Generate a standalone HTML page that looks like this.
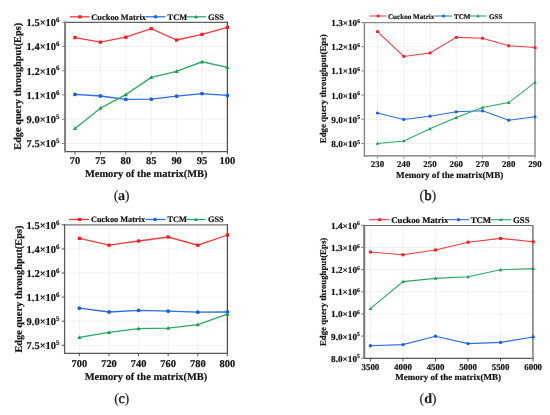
<!DOCTYPE html>
<html><head><meta charset="utf-8"><title>Edge query throughput vs memory</title>
<style>
html,body{margin:0;padding:0;background:#fff;}
svg{display:block;}
text{font-family:"Liberation Serif","Times New Roman",serif;font-weight:bold;fill:#111;stroke:#111;stroke-width:0.18px;text-rendering:geometricPrecision;}
text.cap{font-weight:normal;fill:#1a1a1a;stroke:#1a1a1a;stroke-width:0.1px;}
.gr{stroke:#e8e8e8;stroke-width:0.6;}
.fr{fill:none;stroke:#5a5a5a;stroke-width:1.4;}
.tk{stroke:#5a5a5a;stroke-width:1;}
</style></head>
<body>
<svg width="550" height="415" viewBox="0 0 550 415">
<rect width="550" height="415" fill="#fff"/>
<g><line x1="100.4" y1="22.3" x2="100.4" y2="151.5" class="gr"/><line x1="125.8" y1="22.3" x2="125.8" y2="151.5" class="gr"/><line x1="151.2" y1="22.3" x2="151.2" y2="151.5" class="gr"/><line x1="176.6" y1="22.3" x2="176.6" y2="151.5" class="gr"/><line x1="202" y1="22.3" x2="202" y2="151.5" class="gr"/><line x1="65.05" y1="46.45" x2="227.4" y2="46.45" class="gr"/><line x1="65.05" y1="70.7" x2="227.4" y2="70.7" class="gr"/><line x1="65.05" y1="94.95" x2="227.4" y2="94.95" class="gr"/><line x1="65.05" y1="119.2" x2="227.4" y2="119.2" class="gr"/><line x1="65.05" y1="143.45" x2="227.4" y2="143.45" class="gr"/><line x1="64" y1="22.3" x2="228" y2="22.3" stroke="#626262" stroke-width="1.3"/><line x1="64" y1="151.5" x2="228" y2="151.5" stroke="#555" stroke-width="1.25"/><line x1="65.05" y1="21.65" x2="65.05" y2="152.12" stroke="#838383" stroke-width="2.1"/><line x1="227.4" y1="21.65" x2="227.4" y2="152.12" stroke="#484848" stroke-width="1.2"/><polyline points="75,37.6 100.4,42.2 125.8,37.2 151.2,28.6 176.6,40 202,34.4 227.4,27.4" fill="none" stroke="#f23c40" stroke-width="1.3"/><rect x="73.35" y="35.95" width="3.3" height="3.3" fill="#f21c24"/><rect x="98.75" y="40.55" width="3.3" height="3.3" fill="#f21c24"/><rect x="124.15" y="35.55" width="3.3" height="3.3" fill="#f21c24"/><rect x="149.55" y="26.95" width="3.3" height="3.3" fill="#f21c24"/><rect x="174.95" y="38.35" width="3.3" height="3.3" fill="#f21c24"/><rect x="200.35" y="32.75" width="3.3" height="3.3" fill="#f21c24"/><rect x="225.75" y="25.75" width="3.3" height="3.3" fill="#f21c24"/><polyline points="75,94.4 100.4,96 125.8,99.4 151.2,99.2 176.6,96.2 202,93.6 227.4,95.4" fill="none" stroke="#2a6ee0" stroke-width="1.3"/><circle cx="75" cy="94.4" r="1.9" fill="#1a5fdc"/><circle cx="100.4" cy="96" r="1.9" fill="#1a5fdc"/><circle cx="125.8" cy="99.4" r="1.9" fill="#1a5fdc"/><circle cx="151.2" cy="99.2" r="1.9" fill="#1a5fdc"/><circle cx="176.6" cy="96.2" r="1.9" fill="#1a5fdc"/><circle cx="202" cy="93.6" r="1.9" fill="#1a5fdc"/><circle cx="227.4" cy="95.4" r="1.9" fill="#1a5fdc"/><polyline points="75,128.4 100.4,108.2 125.8,94.6 151.2,77.4 176.6,71.4 202,61.8 227.4,67.4" fill="none" stroke="#2aa865" stroke-width="1.3"/><path d="M72.95 130L77.05 130L75 126.3Z" fill="#179c50"/><path d="M98.35 109.8L102.45 109.8L100.4 106.1Z" fill="#179c50"/><path d="M123.75 96.2L127.85 96.2L125.8 92.5Z" fill="#179c50"/><path d="M149.15 79L153.25 79L151.2 75.3Z" fill="#179c50"/><path d="M174.55 73L178.65 73L176.6 69.3Z" fill="#179c50"/><path d="M199.95 63.4L204.05 63.4L202 59.7Z" fill="#179c50"/><path d="M225.35 69L229.45 69L227.4 65.3Z" fill="#179c50"/><line x1="75" y1="151.5" x2="75" y2="154.5" stroke="#555" stroke-width="1"/><line x1="100.4" y1="151.5" x2="100.4" y2="154.5" stroke="#555" stroke-width="1"/><line x1="125.8" y1="151.5" x2="125.8" y2="154.5" stroke="#555" stroke-width="1"/><line x1="151.2" y1="151.5" x2="151.2" y2="154.5" stroke="#555" stroke-width="1"/><line x1="176.6" y1="151.5" x2="176.6" y2="154.5" stroke="#555" stroke-width="1"/><line x1="202" y1="151.5" x2="202" y2="154.5" stroke="#555" stroke-width="1"/><line x1="227.4" y1="151.5" x2="227.4" y2="154.5" stroke="#555" stroke-width="1"/><line x1="65.05" y1="22.2" x2="62.05" y2="22.2" stroke="#838383" stroke-width="1"/><line x1="65.05" y1="46.45" x2="62.05" y2="46.45" stroke="#838383" stroke-width="1"/><line x1="65.05" y1="70.7" x2="62.05" y2="70.7" stroke="#838383" stroke-width="1"/><line x1="65.05" y1="94.95" x2="62.05" y2="94.95" stroke="#838383" stroke-width="1"/><line x1="65.05" y1="119.2" x2="62.05" y2="119.2" stroke="#838383" stroke-width="1"/><line x1="65.05" y1="143.45" x2="62.05" y2="143.45" stroke="#838383" stroke-width="1"/><text x="75" y="164.1" font-size="10.45" text-anchor="middle">70</text><text x="100.4" y="164.1" font-size="10.45" text-anchor="middle">75</text><text x="125.8" y="164.1" font-size="10.45" text-anchor="middle">80</text><text x="151.2" y="164.1" font-size="10.45" text-anchor="middle">85</text><text x="176.6" y="164.1" font-size="10.45" text-anchor="middle">90</text><text x="202" y="164.1" font-size="10.45" text-anchor="middle">95</text><text x="227.4" y="164.1" font-size="10.45" text-anchor="middle">100</text><text x="59.5" y="26.17" font-size="10.45" text-anchor="end">1.5×10<tspan font-size="6.9" dy="-4.2">6</tspan></text><text x="59.5" y="50.42" font-size="10.45" text-anchor="end">1.4×10<tspan font-size="6.9" dy="-4.2">6</tspan></text><text x="59.5" y="74.67" font-size="10.45" text-anchor="end">1.2×10<tspan font-size="6.9" dy="-4.2">6</tspan></text><text x="59.5" y="98.92" font-size="10.45" text-anchor="end">1.1×10<tspan font-size="6.9" dy="-4.2">6</tspan></text><text x="59.5" y="123.17" font-size="10.45" text-anchor="end">9.0×10<tspan font-size="6.9" dy="-4.2">5</tspan></text><text x="59.5" y="147.42" font-size="10.45" text-anchor="end">7.5×10<tspan font-size="6.9" dy="-4.2">5</tspan></text><text x="146.22" y="176.9" font-size="10.45" text-anchor="middle">Memory of the matrix(MB)</text><text transform="translate(21 86.3) rotate(-90)" font-size="10.3" text-anchor="middle">Edge query throughput(Eps)</text><line x1="70" y1="16.8" x2="89.5" y2="16.8" stroke="#f23c40" stroke-width="1.3"/><rect x="78.43" y="15.23" width="3.13" height="3.13" fill="#f21c24"/><text x="91.3" y="19.6" font-size="8.4">Cuckoo Matrix</text><line x1="146" y1="16.8" x2="165.5" y2="16.8" stroke="#2a6ee0" stroke-width="1.3"/><circle cx="155.5" cy="16.8" r="1.8" fill="#1a5fdc"/><text x="167.6" y="19.6" font-size="8.4">TCM</text><line x1="186.5" y1="16.8" x2="206" y2="16.8" stroke="#2aa865" stroke-width="1.3"/><path d="M194.05 18.32L197.95 18.32L196 14.81Z" fill="#179c50"/><text x="208" y="19.6" font-size="8.4">GSS</text><text x="121.4" y="200" font-size="14.2" text-anchor="middle" class="cap" letter-spacing="-0.5">(<tspan font-weight="bold" stroke-width="0.1">a</tspan>)</text></g>
<g><line x1="377.5" y1="22.6" x2="377.5" y2="155.8" class="gr"/><line x1="403.75" y1="22.6" x2="403.75" y2="155.8" class="gr"/><line x1="430" y1="22.6" x2="430" y2="155.8" class="gr"/><line x1="456.25" y1="22.6" x2="456.25" y2="155.8" class="gr"/><line x1="482.5" y1="22.6" x2="482.5" y2="155.8" class="gr"/><line x1="508.75" y1="22.6" x2="508.75" y2="155.8" class="gr"/><line x1="364.4" y1="46.7" x2="535" y2="46.7" class="gr"/><line x1="364.4" y1="70.9" x2="535" y2="70.9" class="gr"/><line x1="364.4" y1="95.1" x2="535" y2="95.1" class="gr"/><line x1="364.4" y1="119.3" x2="535" y2="119.3" class="gr"/><line x1="364.4" y1="143.5" x2="535" y2="143.5" class="gr"/><line x1="363.7" y1="22.6" x2="535.85" y2="22.6" stroke="#8a8a8a" stroke-width="1.4"/><line x1="363.7" y1="155.8" x2="535.85" y2="155.8" stroke="#999" stroke-width="1.7"/><line x1="364.4" y1="21.9" x2="364.4" y2="156.65" stroke="#888" stroke-width="1.4"/><line x1="535" y1="21.9" x2="535" y2="156.65" stroke="#9a9a9a" stroke-width="1.7"/><polyline points="377.5,31.6 403.75,56.4 430,53 456.25,37.4 482.5,38.2 508.75,45.8 535,47.6" fill="none" stroke="#f23c40" stroke-width="1.05"/><rect x="376.1" y="30.2" width="2.8" height="2.8" fill="#f21c24"/><rect x="402.35" y="55" width="2.8" height="2.8" fill="#f21c24"/><rect x="428.6" y="51.6" width="2.8" height="2.8" fill="#f21c24"/><rect x="454.85" y="36" width="2.8" height="2.8" fill="#f21c24"/><rect x="481.1" y="36.8" width="2.8" height="2.8" fill="#f21c24"/><rect x="507.35" y="44.4" width="2.8" height="2.8" fill="#f21c24"/><rect x="533.6" y="46.2" width="2.8" height="2.8" fill="#f21c24"/><polyline points="377.5,113 403.75,119.4 430,116.2 456.25,111.8 482.5,110.8 508.75,120.2 535,116.8" fill="none" stroke="#2a6ee0" stroke-width="1.05"/><circle cx="377.5" cy="113" r="1.61" fill="#1a5fdc"/><circle cx="403.75" cy="119.4" r="1.61" fill="#1a5fdc"/><circle cx="430" cy="116.2" r="1.61" fill="#1a5fdc"/><circle cx="456.25" cy="111.8" r="1.61" fill="#1a5fdc"/><circle cx="482.5" cy="110.8" r="1.61" fill="#1a5fdc"/><circle cx="508.75" cy="120.2" r="1.61" fill="#1a5fdc"/><circle cx="535" cy="116.8" r="1.61" fill="#1a5fdc"/><polyline points="377.5,143.4 403.75,141 430,128.8 456.25,117.6 482.5,107.4 508.75,102.6 535,82.4" fill="none" stroke="#2aa865" stroke-width="1.05"/><path d="M375.76 144.76L379.24 144.76L377.5 141.62Z" fill="#179c50"/><path d="M402.01 142.36L405.49 142.36L403.75 139.22Z" fill="#179c50"/><path d="M428.26 130.16L431.74 130.16L430 127.02Z" fill="#179c50"/><path d="M454.51 118.96L457.99 118.96L456.25 115.81Z" fill="#179c50"/><path d="M480.76 108.76L484.24 108.76L482.5 105.62Z" fill="#179c50"/><path d="M507.01 103.96L510.49 103.96L508.75 100.81Z" fill="#179c50"/><path d="M533.26 83.76L536.74 83.76L535 80.62Z" fill="#179c50"/><line x1="377.5" y1="155.8" x2="377.5" y2="158.8" stroke="#999" stroke-width="1"/><line x1="403.75" y1="155.8" x2="403.75" y2="158.8" stroke="#999" stroke-width="1"/><line x1="430" y1="155.8" x2="430" y2="158.8" stroke="#999" stroke-width="1"/><line x1="456.25" y1="155.8" x2="456.25" y2="158.8" stroke="#999" stroke-width="1"/><line x1="482.5" y1="155.8" x2="482.5" y2="158.8" stroke="#999" stroke-width="1"/><line x1="508.75" y1="155.8" x2="508.75" y2="158.8" stroke="#999" stroke-width="1"/><line x1="535" y1="155.8" x2="535" y2="158.8" stroke="#999" stroke-width="1"/><line x1="364.4" y1="22.5" x2="361.4" y2="22.5" stroke="#888" stroke-width="1"/><line x1="364.4" y1="46.7" x2="361.4" y2="46.7" stroke="#888" stroke-width="1"/><line x1="364.4" y1="70.9" x2="361.4" y2="70.9" stroke="#888" stroke-width="1"/><line x1="364.4" y1="95.1" x2="361.4" y2="95.1" stroke="#888" stroke-width="1"/><line x1="364.4" y1="119.3" x2="361.4" y2="119.3" stroke="#888" stroke-width="1"/><line x1="364.4" y1="143.5" x2="361.4" y2="143.5" stroke="#888" stroke-width="1"/><text x="377.5" y="166.5" font-size="8.9" text-anchor="middle">230</text><text x="403.75" y="166.5" font-size="8.9" text-anchor="middle">240</text><text x="430" y="166.5" font-size="8.9" text-anchor="middle">250</text><text x="456.25" y="166.5" font-size="8.9" text-anchor="middle">260</text><text x="482.5" y="166.5" font-size="8.9" text-anchor="middle">270</text><text x="508.75" y="166.5" font-size="8.9" text-anchor="middle">280</text><text x="535" y="166.5" font-size="8.9" text-anchor="middle">290</text><text x="360" y="26" font-size="9.2" text-anchor="end">1.3×10<tspan font-size="5.6" dy="-3.31">6</tspan></text><text x="360" y="50.2" font-size="9.2" text-anchor="end">1.2×10<tspan font-size="5.6" dy="-3.31">6</tspan></text><text x="360" y="74.4" font-size="9.2" text-anchor="end">1.1×10<tspan font-size="5.6" dy="-3.31">6</tspan></text><text x="360" y="98.6" font-size="9.2" text-anchor="end">1.0×10<tspan font-size="5.6" dy="-3.31">6</tspan></text><text x="360" y="122.8" font-size="9.2" text-anchor="end">9.0×10<tspan font-size="5.6" dy="-3.31">5</tspan></text><text x="360" y="147" font-size="9.2" text-anchor="end">8.0×10<tspan font-size="5.6" dy="-3.31">5</tspan></text><text x="449.7" y="178" font-size="9.15" text-anchor="middle">Memory of the matrix(MB)</text><text transform="translate(326.2 88.8) rotate(-90)" font-size="8.85" text-anchor="middle">Edge query throughput(Eps)</text><line x1="369.5" y1="16" x2="386.5" y2="16" stroke="#f23c40" stroke-width="1.05"/><rect x="376.67" y="14.67" width="2.66" height="2.66" fill="#f21c24"/><text x="388" y="18.6" font-size="7.1">Cuckoo Matrix</text><line x1="434.5" y1="16" x2="452" y2="16" stroke="#2a6ee0" stroke-width="1.05"/><circle cx="443.5" cy="16" r="1.53" fill="#1a5fdc"/><text x="454" y="18.6" font-size="7.1">TCM</text><line x1="470" y1="16" x2="486.5" y2="16" stroke="#2aa865" stroke-width="1.05"/><path d="M476.34 17.29L479.66 17.29L478 14.3Z" fill="#179c50"/><text x="489" y="18.6" font-size="7.1">GSS</text><text x="428" y="200" font-size="14.2" text-anchor="middle" class="cap" letter-spacing="0.1">(<tspan font-weight="normal" stroke-width="0.6">b</tspan>)</text></g>
<g><line x1="79.4" y1="224.9" x2="79.4" y2="353.3" class="gr"/><line x1="109" y1="224.9" x2="109" y2="353.3" class="gr"/><line x1="138.6" y1="224.9" x2="138.6" y2="353.3" class="gr"/><line x1="168.2" y1="224.9" x2="168.2" y2="353.3" class="gr"/><line x1="197.8" y1="224.9" x2="197.8" y2="353.3" class="gr"/><line x1="64.6" y1="248.9" x2="227.4" y2="248.9" class="gr"/><line x1="64.6" y1="273" x2="227.4" y2="273" class="gr"/><line x1="64.6" y1="297.1" x2="227.4" y2="297.1" class="gr"/><line x1="64.6" y1="321.2" x2="227.4" y2="321.2" class="gr"/><line x1="64.6" y1="345.3" x2="227.4" y2="345.3" class="gr"/><line x1="63.95" y1="224.9" x2="228" y2="224.9" stroke="#737373" stroke-width="1.4"/><line x1="63.95" y1="353.3" x2="228" y2="353.3" stroke="#555" stroke-width="1.2"/><line x1="64.6" y1="224.2" x2="64.6" y2="353.9" stroke="#5a5a5a" stroke-width="1.3"/><line x1="227.4" y1="224.2" x2="227.4" y2="353.9" stroke="#484848" stroke-width="1.2"/><polyline points="79.4,238.4 109,245.2 138.6,241 168.2,237 197.8,245.2 227.4,235" fill="none" stroke="#f23c40" stroke-width="1.3"/><rect x="77.75" y="236.75" width="3.3" height="3.3" fill="#f21c24"/><rect x="107.35" y="243.55" width="3.3" height="3.3" fill="#f21c24"/><rect x="136.95" y="239.35" width="3.3" height="3.3" fill="#f21c24"/><rect x="166.55" y="235.35" width="3.3" height="3.3" fill="#f21c24"/><rect x="196.15" y="243.55" width="3.3" height="3.3" fill="#f21c24"/><rect x="225.75" y="233.35" width="3.3" height="3.3" fill="#f21c24"/><polyline points="79.4,308.2 109,312 138.6,310.4 168.2,311.2 197.8,312.2 227.4,312" fill="none" stroke="#2a6ee0" stroke-width="1.3"/><circle cx="79.4" cy="308.2" r="1.9" fill="#1a5fdc"/><circle cx="109" cy="312" r="1.9" fill="#1a5fdc"/><circle cx="138.6" cy="310.4" r="1.9" fill="#1a5fdc"/><circle cx="168.2" cy="311.2" r="1.9" fill="#1a5fdc"/><circle cx="197.8" cy="312.2" r="1.9" fill="#1a5fdc"/><circle cx="227.4" cy="312" r="1.9" fill="#1a5fdc"/><polyline points="79.4,337.4 109,332.4 138.6,328.6 168.2,328.2 197.8,324.6 227.4,314.2" fill="none" stroke="#2aa865" stroke-width="1.3"/><path d="M77.35 339L81.45 339L79.4 335.3Z" fill="#179c50"/><path d="M106.95 334L111.05 334L109 330.3Z" fill="#179c50"/><path d="M136.55 330.2L140.65 330.2L138.6 326.5Z" fill="#179c50"/><path d="M166.15 329.8L170.25 329.8L168.2 326.1Z" fill="#179c50"/><path d="M195.75 326.2L199.85 326.2L197.8 322.5Z" fill="#179c50"/><path d="M225.35 315.8L229.45 315.8L227.4 312.1Z" fill="#179c50"/><line x1="79.4" y1="353.3" x2="79.4" y2="356.3" stroke="#555" stroke-width="1"/><line x1="109" y1="353.3" x2="109" y2="356.3" stroke="#555" stroke-width="1"/><line x1="138.6" y1="353.3" x2="138.6" y2="356.3" stroke="#555" stroke-width="1"/><line x1="168.2" y1="353.3" x2="168.2" y2="356.3" stroke="#555" stroke-width="1"/><line x1="197.8" y1="353.3" x2="197.8" y2="356.3" stroke="#555" stroke-width="1"/><line x1="227.4" y1="353.3" x2="227.4" y2="356.3" stroke="#555" stroke-width="1"/><line x1="64.6" y1="224.8" x2="61.6" y2="224.8" stroke="#5a5a5a" stroke-width="1"/><line x1="64.6" y1="248.9" x2="61.6" y2="248.9" stroke="#5a5a5a" stroke-width="1"/><line x1="64.6" y1="273" x2="61.6" y2="273" stroke="#5a5a5a" stroke-width="1"/><line x1="64.6" y1="297.1" x2="61.6" y2="297.1" stroke="#5a5a5a" stroke-width="1"/><line x1="64.6" y1="321.2" x2="61.6" y2="321.2" stroke="#5a5a5a" stroke-width="1"/><line x1="64.6" y1="345.3" x2="61.6" y2="345.3" stroke="#5a5a5a" stroke-width="1"/><text x="79.4" y="366.6" font-size="10.45" text-anchor="middle">700</text><text x="109" y="366.6" font-size="10.45" text-anchor="middle">720</text><text x="138.6" y="366.6" font-size="10.45" text-anchor="middle">740</text><text x="168.2" y="366.6" font-size="10.45" text-anchor="middle">760</text><text x="197.8" y="366.6" font-size="10.45" text-anchor="middle">780</text><text x="227.4" y="366.6" font-size="10.45" text-anchor="middle">800</text><text x="59.5" y="228.77" font-size="10.45" text-anchor="end">1.5×10<tspan font-size="6.9" dy="-4.2">6</tspan></text><text x="59.5" y="252.87" font-size="10.45" text-anchor="end">1.4×10<tspan font-size="6.9" dy="-4.2">6</tspan></text><text x="59.5" y="276.97" font-size="10.45" text-anchor="end">1.2×10<tspan font-size="6.9" dy="-4.2">6</tspan></text><text x="59.5" y="301.07" font-size="10.45" text-anchor="end">1.1×10<tspan font-size="6.9" dy="-4.2">6</tspan></text><text x="59.5" y="325.17" font-size="10.45" text-anchor="end">9.0×10<tspan font-size="6.9" dy="-4.2">5</tspan></text><text x="59.5" y="349.27" font-size="10.45" text-anchor="end">7.5×10<tspan font-size="6.9" dy="-4.2">5</tspan></text><text x="146" y="379.6" font-size="10.45" text-anchor="middle">Memory of the matrix(MB)</text><text transform="translate(21.5 289.1) rotate(-90)" font-size="10.3" text-anchor="middle">Edge query throughput(Eps)</text><line x1="69" y1="219.5" x2="89" y2="219.5" stroke="#f23c40" stroke-width="1.3"/><rect x="77.93" y="217.93" width="3.13" height="3.13" fill="#f21c24"/><text x="91" y="222.3" font-size="8.3">Cuckoo Matrix</text><line x1="145.5" y1="219.5" x2="165.5" y2="219.5" stroke="#2a6ee0" stroke-width="1.3"/><circle cx="155" cy="219.5" r="1.8" fill="#1a5fdc"/><text x="167.5" y="222.3" font-size="8.3">TCM</text><line x1="186" y1="219.5" x2="205.5" y2="219.5" stroke="#2aa865" stroke-width="1.3"/><path d="M194.05 221.02L197.95 221.02L196 217.5Z" fill="#179c50"/><text x="208" y="222.3" font-size="8.3">GSS</text><text x="121.5" y="403" font-size="14.2" text-anchor="middle" class="cap" letter-spacing="-0.4">(<tspan font-weight="normal" stroke-width="0.45">c</tspan>)</text></g>
<g><line x1="370.4" y1="225.5" x2="370.4" y2="358.4" class="gr"/><line x1="402.95" y1="225.5" x2="402.95" y2="358.4" class="gr"/><line x1="435.5" y1="225.5" x2="435.5" y2="358.4" class="gr"/><line x1="468.05" y1="225.5" x2="468.05" y2="358.4" class="gr"/><line x1="500.6" y1="225.5" x2="500.6" y2="358.4" class="gr"/><line x1="364.2" y1="247.45" x2="532.9" y2="247.45" class="gr"/><line x1="364.2" y1="269.6" x2="532.9" y2="269.6" class="gr"/><line x1="364.2" y1="291.75" x2="532.9" y2="291.75" class="gr"/><line x1="364.2" y1="313.9" x2="532.9" y2="313.9" class="gr"/><line x1="364.2" y1="336.05" x2="532.9" y2="336.05" class="gr"/><line x1="363.2" y1="225.5" x2="533.75" y2="225.5" stroke="#666" stroke-width="1.2"/><line x1="363.2" y1="358.4" x2="533.75" y2="358.4" stroke="#555" stroke-width="1.3"/><line x1="364.2" y1="224.9" x2="364.2" y2="359.05" stroke="#777" stroke-width="2"/><line x1="532.9" y1="224.9" x2="532.9" y2="359.05" stroke="#888" stroke-width="1.7"/><polyline points="370.4,252 402.95,254.8 435.5,250 468.05,242.2 500.6,238.4 533.15,241.8" fill="none" stroke="#f23c40" stroke-width="1.1"/><rect x="368.91" y="250.51" width="2.97" height="2.97" fill="#f21c24"/><rect x="401.46" y="253.31" width="2.97" height="2.97" fill="#f21c24"/><rect x="434.01" y="248.51" width="2.97" height="2.97" fill="#f21c24"/><rect x="466.56" y="240.71" width="2.97" height="2.97" fill="#f21c24"/><rect x="499.11" y="236.91" width="2.97" height="2.97" fill="#f21c24"/><rect x="531.66" y="240.31" width="2.97" height="2.97" fill="#f21c24"/><polyline points="370.4,345.8 402.95,344.6 435.5,336.2 468.05,343.6 500.6,342.4 533.15,337" fill="none" stroke="#2a6ee0" stroke-width="1.1"/><circle cx="370.4" cy="345.8" r="1.71" fill="#1a5fdc"/><circle cx="402.95" cy="344.6" r="1.71" fill="#1a5fdc"/><circle cx="435.5" cy="336.2" r="1.71" fill="#1a5fdc"/><circle cx="468.05" cy="343.6" r="1.71" fill="#1a5fdc"/><circle cx="500.6" cy="342.4" r="1.71" fill="#1a5fdc"/><circle cx="533.15" cy="337" r="1.71" fill="#1a5fdc"/><polyline points="370.4,308.6 402.95,281.6 435.5,278.4 468.05,276.8 500.6,269.8 533.15,268.6" fill="none" stroke="#2aa865" stroke-width="1.1"/><path d="M368.55 310.04L372.25 310.04L370.4 306.71Z" fill="#179c50"/><path d="M401.1 283.04L404.8 283.04L402.95 279.71Z" fill="#179c50"/><path d="M433.65 279.84L437.35 279.84L435.5 276.51Z" fill="#179c50"/><path d="M466.2 278.24L469.89 278.24L468.05 274.91Z" fill="#179c50"/><path d="M498.75 271.24L502.44 271.24L500.6 267.91Z" fill="#179c50"/><path d="M531.3 270.04L535 270.04L533.15 266.71Z" fill="#179c50"/><line x1="370.4" y1="358.4" x2="370.4" y2="361.4" stroke="#555" stroke-width="1"/><line x1="402.95" y1="358.4" x2="402.95" y2="361.4" stroke="#555" stroke-width="1"/><line x1="435.5" y1="358.4" x2="435.5" y2="361.4" stroke="#555" stroke-width="1"/><line x1="468.05" y1="358.4" x2="468.05" y2="361.4" stroke="#555" stroke-width="1"/><line x1="500.6" y1="358.4" x2="500.6" y2="361.4" stroke="#555" stroke-width="1"/><line x1="533.15" y1="358.4" x2="533.15" y2="361.4" stroke="#555" stroke-width="1"/><line x1="364.2" y1="225.3" x2="361.2" y2="225.3" stroke="#777" stroke-width="1"/><line x1="364.2" y1="247.45" x2="361.2" y2="247.45" stroke="#777" stroke-width="1"/><line x1="364.2" y1="269.6" x2="361.2" y2="269.6" stroke="#777" stroke-width="1"/><line x1="364.2" y1="291.75" x2="361.2" y2="291.75" stroke="#777" stroke-width="1"/><line x1="364.2" y1="313.9" x2="361.2" y2="313.9" stroke="#777" stroke-width="1"/><line x1="364.2" y1="336.05" x2="361.2" y2="336.05" stroke="#777" stroke-width="1"/><line x1="364.2" y1="358.2" x2="361.2" y2="358.2" stroke="#777" stroke-width="1"/><text x="370.4" y="369.5" font-size="8.9" text-anchor="middle">3500</text><text x="402.95" y="369.5" font-size="8.9" text-anchor="middle">4000</text><text x="435.5" y="369.5" font-size="8.9" text-anchor="middle">4500</text><text x="468.05" y="369.5" font-size="8.9" text-anchor="middle">5000</text><text x="500.6" y="369.5" font-size="8.9" text-anchor="middle">5500</text><text x="533.15" y="369.5" font-size="8.9" text-anchor="middle">6000</text><text x="359.8" y="228.8" font-size="9.2" text-anchor="end">1.4×10<tspan font-size="5.6" dy="-3.31">6</tspan></text><text x="359.8" y="250.95" font-size="9.2" text-anchor="end">1.3×10<tspan font-size="5.6" dy="-3.31">6</tspan></text><text x="359.8" y="273.1" font-size="9.2" text-anchor="end">1.2×10<tspan font-size="5.6" dy="-3.31">6</tspan></text><text x="359.8" y="295.25" font-size="9.2" text-anchor="end">1.1×10<tspan font-size="5.6" dy="-3.31">6</tspan></text><text x="359.8" y="317.4" font-size="9.2" text-anchor="end">1.0×10<tspan font-size="5.6" dy="-3.31">6</tspan></text><text x="359.8" y="339.55" font-size="9.2" text-anchor="end">9.0×10<tspan font-size="5.6" dy="-3.31">5</tspan></text><text x="359.8" y="361.7" font-size="9.2" text-anchor="end">8.0×10<tspan font-size="5.6" dy="-3.31">5</tspan></text><text x="448.15" y="380.4" font-size="9" text-anchor="middle">Memory of the matrix(MB)</text><text transform="translate(326.3 291.95) rotate(-90)" font-size="8.8" text-anchor="middle">Edge query throughput(Eps)</text><line x1="369" y1="219.7" x2="389" y2="219.7" stroke="#f23c40" stroke-width="1.1"/><rect x="378.09" y="218.29" width="2.82" height="2.82" fill="#f21c24"/><text x="391.3" y="222.8" font-size="8.75">Cuckoo Matrix</text><line x1="448" y1="219.7" x2="469" y2="219.7" stroke="#2a6ee0" stroke-width="1.1"/><circle cx="458.5" cy="219.7" r="1.62" fill="#1a5fdc"/><text x="470.7" y="222.8" font-size="8.75">TCM</text><line x1="490.5" y1="219.7" x2="511" y2="219.7" stroke="#2aa865" stroke-width="1.1"/><path d="M499.25 221.07L502.75 221.07L501 217.9Z" fill="#179c50"/><text x="513" y="222.8" font-size="8.75">GSS</text><text x="428" y="403" font-size="14.2" text-anchor="middle" class="cap" letter-spacing="-0.2">(<tspan font-weight="bold" stroke-width="0.1">d</tspan>)</text></g>
</svg>
</body></html>
